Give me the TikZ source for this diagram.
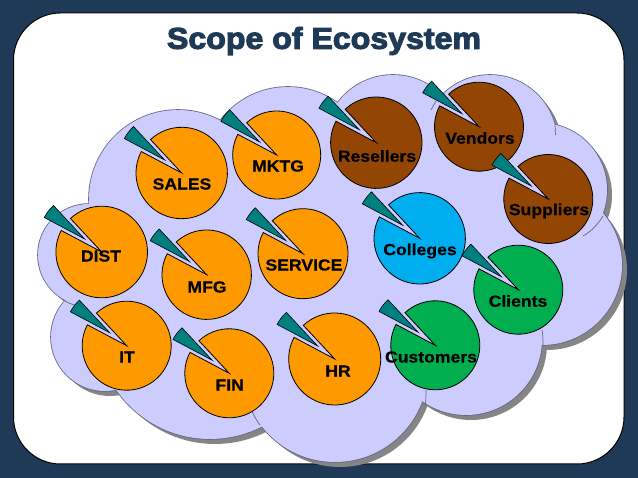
\documentclass[tikz,border=0pt]{standalone}
\usepackage{fontspec}
\newfontfamily\lab[FakeStretch=1.1,FakeBold=0.6]{Liberation Sans Bold}
\newfontfamily\ttl[FakeStretch=1.07,FakeBold=3.6]{Liberation Sans Bold}
\definecolor{navy}{HTML}{1F3A56}
\definecolor{cloudc}{HTML}{CCCCFF}
\definecolor{orangec}{HTML}{FF9900}
\definecolor{brownc}{HTML}{934504}
\definecolor{bluec}{HTML}{00AEEF}
\definecolor{greenc}{HTML}{00AE50}
\definecolor{tealc}{HTML}{007F7F}
\definecolor{shadowc}{HTML}{858585}
\definecolor{cloudline}{HTML}{666680}
\tikzset{
  piefill/.style={draw=black,line width=0.8pt,line join=miter},
  wedgefill/.style={draw=black,line width=0.6pt,fill=tealc,line join=miter},
  lbl/.style={inner sep=0pt,font=\lab\fontsize{16}{16}\selectfont,text=black},
  seam/.style={draw=cloudline,line width=0.7pt}
}
% centre x, centre y, radius, colour, label x, label y, text, name
\newcommand{\slice}[8]{%
  \path[piefill,fill=#4] (#1,#2) -- +(227:#3) arc[start angle=227,end angle=568,radius=#3] -- cycle;
  \path[wedgefill,shift={(-17,-13)}] (#1,#2) -- +(208:#3) arc[start angle=208,end angle=227,radius=#3] -- cycle;
  \node[lbl] (#8) at (#5,#6) {#7};
}
\newcommand{\cloudshape}{%
  (178,199) circle[radius=89]
  (288,172) circle[radius=85]
  (393,144) circle[radius=69]
  (490,142) circle[radius=67]
  (540,190) circle[radius=67]
  (542,265) circle[radius=80]
  (466,339) circle[radius=76]
  (335,369) circle[radius=93]
  (210,325) circle[radius=114]
  (105,337) circle[radius=54]
  (89,255) circle[radius=51]
  (178,199) -- (288,172) -- (393,144) -- (490,142) -- (540,190) -- (542,265) -- (466,339) -- (335,369) -- (210,325) -- (105,337) -- (89,255) -- cycle
}
\begin{document}
\begin{tikzpicture}[x=1pt,y=-1pt]
\useasboundingbox (0,0) rectangle (638,478);
\fill[navy] (0,0) rectangle (638,478);
\draw[black,line width=1pt,fill=white,rounded corners=47pt] (13.5,13) rectangle (624,464);
\node[inner sep=0pt,font=\ttl\fontsize{30}{30}\selectfont,text=navy] (title) at (324,41) {Scope of Ecosystem};
% cloud: shadow, outline, fill
\fill[shadowc,shift={(5,5)}] \cloudshape;
\draw[cloudline,line width=1.6pt] (178,199) circle[radius=89] (288,172) circle[radius=85] (393,144) circle[radius=69] (490,142) circle[radius=67] (540,190) circle[radius=67] (542,265) circle[radius=80] (466,339) circle[radius=76] (335,369) circle[radius=93] (210,325) circle[radius=114] (105,337) circle[radius=54] (89,255) circle[radius=51];
\foreach \cx/\cy/\r in {178/199/89,288/172/85,393/144/69,490/142/67,540/190/67,542/265/80,466/339/76,335/369/93,210/325/114,105/337/54,89/255/51}
  \fill[cloudc] (\cx,\cy) circle[radius=\r];
\fill[cloudc] (178,199) -- (288,172) -- (393,144) -- (490,142) -- (540,190) -- (542,265) -- (466,339) -- (335,369) -- (210,325) -- (105,337) -- (89,255) -- cycle;
% short seams inside the cloud
\draw[seam] (431,110) -- (436,101);
\draw[seam] (555,125) -- (555.5,135);
\draw[seam] (583,236) .. controls (592,231) and (598,224) .. (603,216);
\draw[seam] (425,406) .. controls (426,401) and (426,395) .. (426,390);
\draw[seam] (543,345) .. controls (543,340) and (543,335) .. (542,330);
\draw[seam] (252,411) .. controls (254,416) and (257,421) .. (260,425);
\draw[seam] (65,301) .. controls (68,303) and (71,304) .. (75,305);
% pies
\slice{181.7}{173}{45.7}{orangec}{182}{184}{SALES}{sales}
\slice{276.7}{155}{44}{orangec}{278}{166}{MKTG}{mktg}
\slice{376.3}{142.7}{45.7}{brownc}{377}{156}{Resellers}{resellers}
\slice{479}{126.7}{44.5}{brownc}{480}{138}{Vendors}{vendors}
\slice{548.3}{199}{44.5}{brownc}{549}{211}{Suppliers}{suppliers}
\slice{419.7}{238.3}{45.7}{bluec}{420}{251}{Colleges}{colleges}
\slice{518.3}{289.7}{44.5}{greenc}{518}{301}{Clients}{clients}
\slice{435.3}{345.3}{44.5}{greenc}{431}{357}{Customers}{customers}
\slice{334.7}{359}{46}{orangec}{338}{371}{HR}{hr}
\slice{303}{253.7}{45}{orangec}{304}{265}{SERVICE}{service}
\slice{206.7}{274.7}{44.7}{orangec}{207}{287}{MFG}{mfg}
\slice{101.7}{252}{45.8}{orangec}{101}{256}{DIST}{dist}
\slice{126.7}{345.7}{44.5}{orangec}{127}{357}{IT}{it}
\slice{229.3}{373.3}{44.5}{orangec}{229.7}{385}{FIN}{fin}
\end{tikzpicture}
\end{document}
